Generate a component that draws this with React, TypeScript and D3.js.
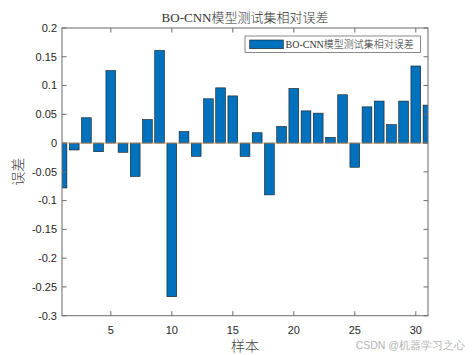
import React from "react";
import * as d3 from "d3";

const samples = d3.range(1, 32);
const errors = [
  -0.078, -0.012, 0.044, -0.015, 0.126, -0.016, -0.058, 0.041, 0.161, -0.267,
  0.020, -0.023, 0.077, 0.096, 0.082, -0.023, 0.018, -0.090, 0.029, 0.095,
  0.056, 0.052, 0.010, 0.084, -0.042, 0.063, 0.073, 0.032, 0.073, 0.134, 0.066,
];
const yTicks = [0.2, 0.15, 0.1, 0.05, 0, -0.05, -0.1, -0.15, -0.2, -0.25, -0.3];
const xTicks = [5, 10, 15, 20, 25, 30];
const title = "BO-CNN模型测试集相对误差";
const legendLabel = "BO-CNN模型测试集相对误差";
const xLabel = "样本";
const yLabel = "误差";
const watermark = "CSDN @机器学习之心";

const W = 474, H = 355;
const L = 62, R = 428, T = 28, B = 315.7;

export default function App() {
  const x = d3.scaleLinear().domain([1, 31]).range([L, R]);
  const y = d3.scaleLinear().domain([-0.3, 0.2]).range([B, T]);
  const bw = (x(2) - x(1)) * 0.8;
  const axisColor = "#6b6b6b";
  const serif = "'Liberation Serif', 'Noto Sans CJK SC', serif";
  const sans = "'Liberation Sans', Arial, sans-serif";
  const tick = 4.5;
  return (
    <svg width={W} height={H} style={{ position: "absolute", left: 0, top: 0, background: "#fff" }}>
      <defs>
        <clipPath id="plot">
          <rect x={L} y={T} width={R - L} height={B - T} />
        </clipPath>
      </defs>
      <rect x={0} y={0} width={W} height={H} fill="#fff" />
      <g clipPath="url(#plot)">
        {samples.map((s, i) => {
          const v = errors[i];
          const y0 = y(Math.max(0, v));
          const y1 = y(Math.min(0, v));
          return (
            <rect key={s} x={x(s) - bw / 2} y={y0} width={bw} height={y1 - y0}
              fill="#0072BD" stroke="#1a1a1a" strokeWidth={0.6} />
          );
        })}
        <line x1={L} x2={R} y1={y(0)} y2={y(0)} stroke="#c89a6a" strokeWidth={0.8} />
      </g>
      <rect x={L} y={T} width={R - L} height={B - T} fill="none" stroke={axisColor} strokeWidth={1} />
      {yTicks.map((t) => (
        <g key={t}>
          <line x1={L} x2={L + tick} y1={y(t)} y2={y(t)} stroke={axisColor} />
          <line x1={R} x2={R - tick} y1={y(t)} y2={y(t)} stroke={axisColor} />
          <text x={L - 5} y={y(t)} dy="0.35em" textAnchor="end" fontFamily={sans} fontSize={11} fill="#262626">
            {t === 0 ? "0" : String(t)}
          </text>
        </g>
      ))}
      {xTicks.map((t) => (
        <g key={t}>
          <line x1={x(t)} x2={x(t)} y1={B} y2={B - tick} stroke={axisColor} />
          <line x1={x(t)} x2={x(t)} y1={T} y2={T + tick} stroke={axisColor} />
          <text x={x(t)} y={B + 14} dy="0.35em" textAnchor="middle" fontFamily={sans} fontSize={11} fill="#262626">
            {t}
          </text>
        </g>
      ))}
      <text x={(L + R) / 2} y={17} dy="0.35em" textAnchor="middle" fontFamily={serif} fontSize={13} fontWeight={300} fill="#333">
        {title}
      </text>
      <text x={(L + R) / 2} y={346} dy="0.35em" textAnchor="middle" fontFamily={serif} fontSize={14} fontWeight={300} fill="#444">
        {xLabel}
      </text>
      <text transform={`translate(18, ${(T + B) / 2}) rotate(-90)`} dy="0.35em" textAnchor="middle" fontFamily={serif} fontSize={14} fontWeight={300} fill="#444">
        {yLabel}
      </text>
      <rect x={245} y={36} width={175.5} height={16.5} fill="#fff" stroke={axisColor} strokeWidth={0.8} />
      <rect x={249.7} y={40} width={33.6} height={8.7} fill="#0072BD" stroke="#1a1a1a" strokeWidth={0.6} />
      <text x={285.5} y={44.5} dy="0.35em" fontFamily={serif} fontSize={10} fontWeight={300} fill="#333">
        {legendLabel}
      </text>
      <text x={465} y={345} dy="0.35em" textAnchor="end" fontFamily={sans} fontSize={10.5} fill="#b5b5b5">
        {watermark}
      </text>
    </svg>
  );
}
